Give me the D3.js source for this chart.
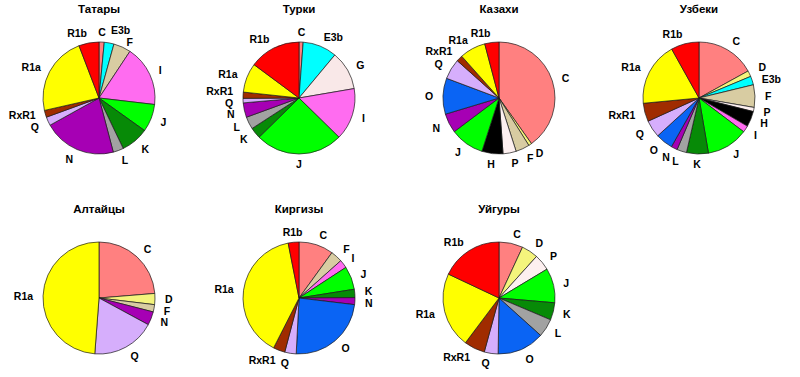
<!DOCTYPE html>
<html lang="ru">
<head>
    <meta charset="utf-8">
    <title>Гаплогруппы Y-хромосомы тюркских народов</title>
    <style>
        body { margin: 0; background: #fff; }
        svg { display: block; font-family: "Liberation Sans", Arial, sans-serif; font-weight: bold; }
        .title { font-size: 11.5px; }
        .label { font-size: 10.5px; }
        .slice { stroke: #1a1a1a; stroke-width: 0.7; }
    </style>
    <script src="https://d3js.org/d3.v7.min.js"></script>
</head>
<body>
<svg></svg>
<script>
    // haplogroups, in the order the slices run clockwise from 12 o'clock
    var haplogroups = ["C", "D", "E3b", "F", "G", "P", "H", "I", "J", "K", "L", "N", "O", "Q", "RxR1", "R1a", "R1b"];
    var colors = ["#ff8080", "#f4f47c", "#00ffff", "#d8cca2", "#f9e8e8", "#fdf0f0", "#000000", "#ff6cf0",
                  "#00ff00", "#078a07", "#a2a2a2", "#a600b4", "#0a64f4", "#d6aefc", "#a02c00", "#ffff00", "#ff0000"];

    var populations = ["Татары", "Турки", "Казахи", "Узбеки", "Алтайцы", "Киргизы", "Уйгуры"];

    // percentages per population, aligned with haplogroups (0 = absent)
    var tatars  = [1.5, 0, 2.8, 5, 0, 0, 0, 17.5, 8, 8, 3, 21, 0, 2.5, 2, 22.7, 5.8];
    var turks   = [1.2, 0, 9.9, 0, 11.3, 0, 0, 15.1, 25.4, 3.2, 3.6, 4.2, 0, 1.3, 1.8, 8.5, 14.9];
    var kazakhs = [40.2, 0.9, 0, 4, 0, 3.8, 6.1, 0, 9.8, 0, 0, 5.6, 10.4, 5.9, 1.8, 7.5, 4.1];
    var uzbeks  = [17, 1.7, 2.5, 6.5, 0, 1.2, 4.5, 1.9, 12, 6.3, 2.8, 1.8, 5, 5, 5.3, 18.4, 8.1];
    var altai   = [23.7, 3.2, 0, 2.1, 0, 0, 0, 0, 0, 0, 0, 3.9, 0, 18.3, 0, 48.8, 0];
    var kyrgyz  = [10, 0, 0, 3.4, 0, 0, 0, 2.4, 6.7, 2.4, 0, 2, 23.9, 3.3, 3.4, 39.4, 3.1];
    var uighurs = [6.9, 4.8, 0, 0, 0, 4.7, 0, 0, 10, 5, 5.3, 0, 13.6, 4, 6, 21.8, 18];

    var values = [tatars, turks, kazakhs, uzbeks, altai, kyrgyz, uighurs];

    var width = 800, height = 377, radius = 56;

    var svg = d3.select("svg")
        .attr("width", width)
        .attr("height", height);

    // grid of pies: 4 columns on the first row, 3 on the second
    var col = d3.scaleLinear().domain([0, 3]).range([99, 699]);
    var row = d3.scaleLinear().domain([0, 1]).range([98, 298]);

    var color = d3.scaleOrdinal().domain(haplogroups).range(colors);

    var pie = d3.pie().sort(null).value(function(d) { return d.value; });
    var arc = d3.arc().innerRadius(0).outerRadius(radius);

    populations.forEach(function(name, i) {
        var data = haplogroups.map(function(h, j) { return {group: h, value: values[i][j]}; })
            .filter(function(d) { return d.value > 0; });

        var cx = col(i < 4 ? i : i - 4), cy = row(i < 4 ? 0 : 1);
        var g = svg.append("g").attr("transform", "translate(" + cx + "," + cy + ")");

        g.append("text")
            .attr("class", "title")
            .attr("text-anchor", "middle")
            .attr("y", -radius - 29)
            .text(name);

        var arcs = pie(data);

        g.selectAll(".slice")
            .data(arcs)
            .enter().append("path")
            .attr("class", "slice")
            .attr("fill", function(d) { return color(d.data.group); })
            .attr("d", arc);

        var lr = radius + 10;
        var labels = g.selectAll(".label")
            .data(arcs)
            .enter().append("text")
            .attr("class", "label")
            .attr("text-anchor", function(d) {
                var s = Math.sin((d.startAngle + d.endAngle) / 2);
                return s > 0.12 ? "start" : s < -0.12 ? "end" : "middle";
            })
            .attr("x", function(d) { return lr * Math.sin((d.startAngle + d.endAngle) / 2); })
            .attr("y", function(d) { return -lr * Math.cos((d.startAngle + d.endAngle) / 2) + 4; })
            .text(function(d) { return d.data.group; });

        // push overlapping labels apart vertically
        var nodes = labels.nodes();
        for (var it = 0; it < 30; it++) {
            var moved = false;
            for (var a = 0; a < nodes.length; a++) {
                for (var b = a + 1; b < nodes.length; b++) {
                    var A = nodes[a].getBBox(), B = nodes[b].getBBox();
                    var ox = Math.min(A.x + A.width, B.x + B.width) - Math.max(A.x, B.x);
                    var oy = Math.min(A.y + A.height, B.y + B.height) - Math.max(A.y, B.y);
                    if (ox > 0 && oy > 1) {
                        var upper = A.y < B.y ? nodes[a] : nodes[b];
                        var lower = upper === nodes[a] ? nodes[b] : nodes[a];
                        var sh = (oy - 1) / 2 + 0.5;
                        upper.setAttribute("y", +upper.getAttribute("y") - sh);
                        lower.setAttribute("y", +lower.getAttribute("y") + sh);
                        moved = true;
                    }
                }
            }
            if (!moved) break;
        }
    });
</script>
</body>
</html>
